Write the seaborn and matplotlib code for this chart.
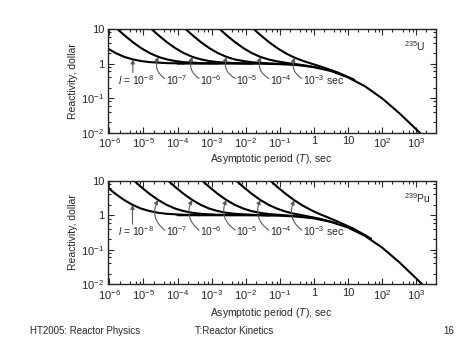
import matplotlib
matplotlib.use('Agg')
import matplotlib.pyplot as plt
from matplotlib.ticker import FixedLocator, FixedFormatter, LogLocator, NullFormatter
import seaborn as sns

# tick labels
period_ticks = [1e-6, 1e-5, 1e-4, 1e-3, 1e-2, 1e-1, 1, 10, 1e2, 1e3]
period_labels = ['10$^{-6}$', '10$^{-5}$', '10$^{-4}$', '10$^{-3}$', '10$^{-2}$',
                 '10$^{-1}$', '1', '10', '10$^{2}$', '10$^{3}$']
rho_ticks = [1e-2, 1e-1, 1, 10]
rho_labels = ['10$^{-2}$', '10$^{-1}$', '1', '10']

# prompt neutron lifetime labels
gen_labels = ['$\\mathit{l}$ = 10$^{-8}$', '10$^{-7}$', '10$^{-6}$', '10$^{-5}$',
              '10$^{-4}$', '10$^{-3}$ sec']

# U-235 curves, period T (sec) vs reactivity (dollar)
u235_T_l8 = [4.864e-7, 8.649e-7, 1.538e-6, 2.735e-6, 4.864e-6, 8.649e-6, 1.538e-5, 4.864e-5, 1.538e-4]
u235_rho_l8 = [4.16, 2.78, 2.0, 1.56, 1.32, 1.18, 1.10, 1.03, 1.01]
u235_T_l7 = [1.538e-6, 2.735e-6, 4.864e-6, 8.649e-6, 1.538e-5, 2.735e-5, 4.864e-5, 8.649e-5, 1.538e-4, 4.864e-4, 1.538e-3]
u235_rho_l7 = [11.0, 6.62, 4.16, 2.78, 2.0, 1.56, 1.32, 1.18, 1.10, 1.03, 1.01]
u235_T_l6 = [1.538e-5, 2.735e-5, 4.864e-5, 8.649e-5, 1.538e-4, 2.735e-4, 4.864e-4, 8.649e-4, 1.538e-3, 4.864e-3, 1.538e-2]
u235_rho_l6 = [11.0, 6.62, 4.16, 2.78, 2.0, 1.56, 1.32, 1.18, 1.10, 1.03, 1.00]
u235_T_l5 = [1.538e-4, 2.735e-4, 4.864e-4, 8.649e-4, 1.538e-3, 2.735e-3, 4.864e-3, 8.649e-3, 1.538e-2, 4.864e-2, 0.1538]
u235_rho_l5 = [11.0, 6.62, 4.16, 2.78, 2.0, 1.56, 1.31, 1.18, 1.09, 1.01, 0.96]
u235_T_l4 = [1.538e-3, 2.735e-3, 4.864e-3, 8.649e-3, 1.538e-2, 2.735e-2, 4.864e-2, 8.649e-2, 0.1538, 0.4864, 1.538]
u235_rho_l4 = [11.0, 6.62, 4.16, 2.78, 1.99, 1.55, 1.30, 1.15, 1.05, 0.90, 0.74]
u235_T_l3 = [1.538e-2, 2.735e-2, 4.864e-2, 8.649e-2, 0.1538, 0.2735, 0.4864, 0.8649, 1.538, 4.864, 15.38]
u235_rho_l3 = [11.0, 6.61, 4.14, 2.75, 1.95, 1.48, 1.19, 0.99, 0.83, 0.56, 0.34]
u235_T_tail = [1e-4, 1e-3, 1e-2, 3.16e-2, 0.1, 0.316, 1, 3.16, 10, 31.6, 100, 316, 1000, 3160]
u235_rho_tail = [1.0, 1.0, 0.996, 0.988, 0.964, 0.906, 0.789, 0.608, 0.399, 0.220, 0.0988, 0.0372, 0.0126, 0.0041]

# Pu-239 curves
pu239_T_l8 = [8.468e-7, 1.506e-6, 2.678e-6, 4.762e-6, 8.468e-6, 1.506e-5, 2.678e-5, 4.762e-5, 1.506e-4, 4.762e-4]
pu239_rho_l8 = [6.62, 4.16, 2.78, 2.0, 1.56, 1.32, 1.18, 1.10, 1.03, 1.01]
pu239_T_l7 = [4.762e-6, 8.468e-6, 1.506e-5, 2.678e-5, 4.762e-5, 8.468e-5, 1.506e-4, 2.678e-4, 4.762e-4, 1.506e-3, 4.762e-3]
pu239_rho_l7 = [11.0, 6.62, 4.16, 2.78, 2.0, 1.56, 1.32, 1.18, 1.10, 1.03, 1.01]
pu239_T_l6 = [4.762e-5, 8.468e-5, 1.506e-4, 2.678e-4, 4.762e-4, 8.468e-4, 1.506e-3, 2.678e-3, 4.762e-3, 1.506e-2, 4.762e-2]
pu239_rho_l6 = [11.0, 6.62, 4.16, 2.78, 2.0, 1.56, 1.32, 1.18, 1.10, 1.03, 0.99]
pu239_T_l5 = [4.762e-4, 8.468e-4, 1.506e-3, 2.678e-3, 4.762e-3, 8.468e-3, 1.506e-2, 2.678e-2, 4.762e-2, 0.1506, 0.4762]
pu239_rho_l5 = [11.0, 6.62, 4.16, 2.78, 2.0, 1.56, 1.31, 1.17, 1.08, 0.99, 0.90]
pu239_T_l4 = [4.762e-3, 8.468e-3, 1.506e-2, 2.678e-2, 4.762e-2, 8.468e-2, 0.1506, 0.2678, 0.4762, 1.506, 4.762]
pu239_rho_l4 = [11.0, 6.62, 4.16, 2.77, 1.98, 1.54, 1.27, 1.10, 0.99, 0.79, 0.58]
pu239_T_l3 = [4.762e-2, 8.468e-2, 0.1506, 0.2678, 0.4762, 0.8468, 1.506, 2.678, 4.762, 15.06, 47.62]
pu239_rho_l3 = [11.0, 6.60, 4.12, 2.71, 1.89, 1.39, 1.07, 0.85, 0.67, 0.40, 0.21]
pu239_T_tail = [1e-4, 1e-3, 1e-2, 3.16e-2, 0.1, 0.316, 1, 3.16, 10, 31.6, 100, 316, 1000, 3160]
pu239_rho_tail = [1.0, 1.0, 0.996, 0.989, 0.968, 0.916, 0.810, 0.642, 0.440, 0.252, 0.116, 0.044, 0.0149, 0.0048]


def style_axes(ax):
    ax.set_xscale('log')
    ax.set_yscale('log')
    ax.set_xlim(8.8e-7, 3.7e3)
    ax.set_ylim(1e-2, 10)
    ax.xaxis.set_major_locator(FixedLocator(period_ticks))
    ax.xaxis.set_major_formatter(FixedFormatter(period_labels))
    ax.yaxis.set_major_locator(FixedLocator(rho_ticks))
    ax.yaxis.set_major_formatter(FixedFormatter(rho_labels))
    ax.xaxis.set_minor_locator(LogLocator(base=10, subs=(2, 4, 6, 8), numticks=30))
    ax.yaxis.set_minor_locator(LogLocator(base=10, subs=(2, 4, 6, 8), numticks=30))
    ax.xaxis.set_minor_formatter(NullFormatter())
    ax.yaxis.set_minor_formatter(NullFormatter())
    ax.tick_params(which='both', direction='in', top=True, right=True, width=0.8, labelsize=8, pad=2.5)
    ax.tick_params(which='major', length=4)
    ax.tick_params(which='minor', length=2.5)
    for s in ax.spines.values():
        s.set_linewidth(1.0)
        s.set_visible(True)
    ax.set_ylabel('Reactivity, dollar', fontsize=7.5)
    ax.yaxis.set_label_coords(-0.09, 0.5)
    ax.set_xlabel('Asymptotic period $\\mathit{(T)}$, sec', fontsize=7.5)


def draw_panel(ax, curves, tail, tip_idx, isotope):
    for T, rho in curves:
        sns.lineplot(x=T, y=rho, ax=ax, color='black', lw=1.5, sort=False)
    sns.lineplot(x=tail[0], y=tail[1], ax=ax, color='black', lw=1.5, sort=False)
    style_axes(ax)

    label_T = [1.75e-6, 4.5e-5, 4.6e-4, 5.3e-3, 5.1e-2, 0.475]
    for k, (T, rho) in enumerate(curves):
        ax.text(label_T[k], 0.34, gen_labels[k], fontsize=7.5, ha='left', va='center')
        tip = (T[tip_idx[k]], rho[tip_idx[k]])
        if k == 0:
            tail_pt = (tip[0], 0.55)
            rad = 0.0
        else:
            tail_pt = (label_T[k] * 0.93, 0.37)
            rad = -0.4
        ax.annotate('', xy=tip, xytext=tail_pt,
                    arrowprops=dict(arrowstyle='-|>', color='0.35', lw=0.8, mutation_scale=6,
                                    shrinkA=0, shrinkB=0, connectionstyle='arc3,rad=%s' % rad))
    ax.text(0.903, 0.835, isotope, transform=ax.transAxes, fontsize=7.5, ha='left', va='center')


sns.set_style('ticks')
plt.rcParams['font.family'] = ['Liberation Sans', 'DejaVu Sans']
plt.rcParams['mathtext.fontset'] = 'custom'
plt.rcParams['mathtext.rm'] = 'Liberation Sans'
plt.rcParams['mathtext.it'] = 'Liberation Sans:italic'
plt.rcParams['mathtext.bf'] = 'Liberation Sans:bold'

fig = plt.figure(figsize=(4.74, 3.55), dpi=100)
ax1 = fig.add_axes([0.2268, 0.6262, 0.692, 0.2921])
ax2 = fig.add_axes([0.2268, 0.1992, 0.692, 0.2918])

u235_curves = [(u235_T_l8, u235_rho_l8), (u235_T_l7, u235_rho_l7), (u235_T_l6, u235_rho_l6),
               (u235_T_l5, u235_rho_l5), (u235_T_l4, u235_rho_l4), (u235_T_l3, u235_rho_l3)]
pu239_curves = [(pu239_T_l8, pu239_rho_l8), (pu239_T_l7, pu239_rho_l7), (pu239_T_l6, pu239_rho_l6),
                (pu239_T_l5, pu239_rho_l5), (pu239_T_l4, pu239_rho_l4), (pu239_T_l3, pu239_rho_l3)]

draw_panel(ax1, u235_curves, (u235_T_tail, u235_rho_tail), [4, 5, 5, 5, 5, 5], '$^{235}$U')
draw_panel(ax2, pu239_curves, (pu239_T_tail, pu239_rho_tail), [3, 3, 3, 3, 3, 3], '$^{239}$Pu')
ax1.xaxis.set_label_coords(0.5, -0.185)
ax2.xaxis.set_label_coords(0.5, -0.21)

fig.text(30 / 474, 1 - 331 / 355, 'HT2005: Reactor Physics', fontsize=7, ha='left', va='center')
fig.text(195 / 474, 1 - 331 / 355, 'T:Reactor Kinetics', fontsize=7, ha='left', va='center')
fig.text(449 / 474, 1 - 331 / 355, '16', fontsize=7, ha='center', va='center')

fig.savefig('out.png', dpi=100)
